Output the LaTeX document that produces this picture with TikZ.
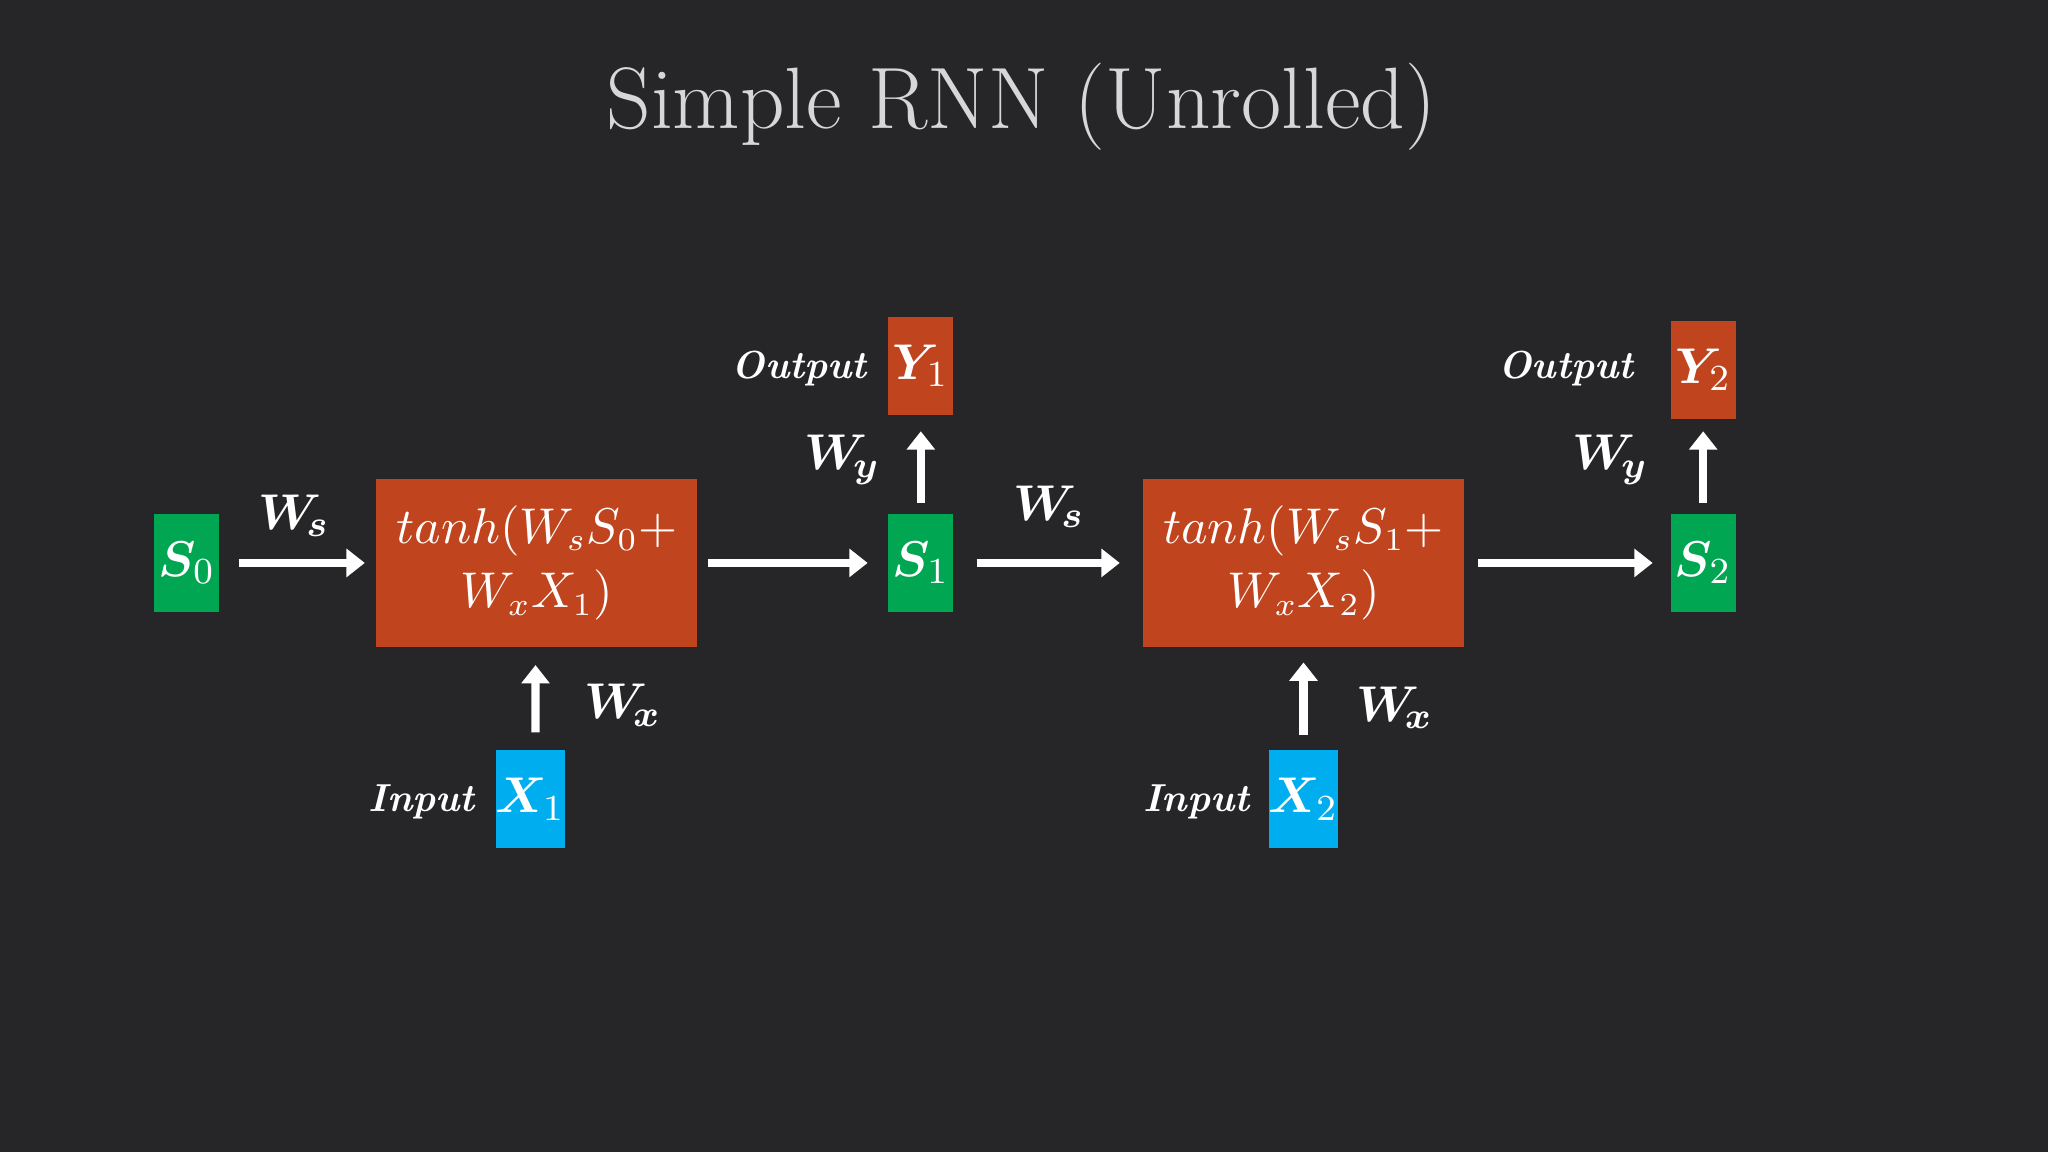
\documentclass[tikz,border=0pt]{standalone}
\usepackage{bm}
\usepackage{tikz}
\usetikzlibrary{arrows.meta}
\definecolor{bgdark}{RGB}{38,38,40}
\definecolor{stategreen}{RGB}{0,166,81}
\definecolor{cellorange}{RGB}{192,68,30}
\definecolor{inblue}{RGB}{0,174,239}
\definecolor{titlegray}{RGB}{215,215,215}
\begin{document}
\begin{tikzpicture}[x=0.1cm,y=-0.1cm,
    state/.style={fill=stategreen,minimum width=0.5cm,minimum height=0.75cm,text=white,inner sep=0pt,font=\fontsize{11}{13}\selectfont},
    outbox/.style={state,fill=cellorange},
    inbox/.style={state,fill=inblue},
    cell/.style={fill=cellorange,minimum width=2.46cm,minimum height=1.29cm,inner sep=0pt,text=white,align=center,font=\fontsize{10.5}{14}\selectfont},
    lbl/.style={text=white,font=\fontsize{11}{13}\selectfont},
    word/.style={text=white,font=\bfseries\itshape\fontsize{8.5}{10}\selectfont},
    flow/.style={-{Triangle[length=4pt,width=6pt]},white,line width=1.8pt}]
      \fill[bgdark] (0,0) rectangle (156.8,88.2);
      \node[text=titlegray,font=\fontsize{19}{23}\selectfont] (title) at (78.2,8.2) {Simple RNN (Unrolled)};

      \node[state] (s0) at (14.3,43.1) {$\bm{S}_0$};
      \node[cell] (c1) at (41.1,43.1) {$tanh(W_sS_0+$\\$W_xX_1)$};
      \node[state] (s1) at (70.5,43.1) {$\bm{S}_1$};
      \node[cell] (c2) at (99.8,43.1) {$tanh(W_sS_1+$\\$W_xX_2)$};
      \node[state] (s2) at (130.4,43.1) {$\bm{S}_2$};

      \node[outbox] (y1) at (70.5,28.0) {$\bm{Y}_1$};
      \node[outbox] (y2) at (130.4,28.3) {$\bm{Y}_2$};
      \node[inbox] (x1) at (40.6,61.2) {$\bm{X}_1$};
      \node[inbox] (x2) at (99.8,61.2) {$\bm{X}_2$};

      \node[word] (o1) at (61.2,28.2) {Output};
      \node[word] (o2) at (119.9,28.2) {Output};
      \node[word] (i1) at (32.3,61.4) {Input};
      \node[word] (i2) at (91.6,61.4) {Input};

      \draw[flow] ([xshift=0.14cm]s0.east) -- ([xshift=-0.08cm]c1.west);
      \draw[flow] ([xshift=0.07cm]c1.east) -- ([xshift=-0.15cm]s1.west);
      \draw[flow] ([xshift=0.17cm]s1.east) -- ([xshift=-0.17cm]c2.west);
      \draw[flow] ([xshift=0.10cm]c2.east) -- ([xshift=-0.13cm]s2.west);
      \draw[flow] ([yshift=0.08cm]s1.north) -- ([yshift=-0.12cm]y1.south);
      \draw[flow] ([yshift=0.08cm]s2.north) -- ([yshift=-0.09cm]y2.south);
      \draw[flow] ([xshift=0.04cm,yshift=0.13cm]x1.north) -- ([xshift=-0.01cm,yshift=-0.13cm]c1.south);
      \draw[flow] ([yshift=0.11cm]x2.north) -- ([yshift=-0.11cm]c2.south);

      \node[lbl] (ws1) at (22.5,39.5) {$\bm{W}_{\!\bm{s}}$};
      \node[lbl] (ws2) at (80.3,38.8) {$\bm{W}_{\!\bm{s}}$};
      \node[lbl] (wy1) at (64.5,35.2) {$\bm{W}_{\!\bm{y}}$};
      \node[lbl] (wy2) at (123.3,35.2) {$\bm{W}_{\!\bm{y}}$};
      \node[lbl] (wx1) at (47.7,54.0) {$\bm{W}_{\!\bm{x}}$};
      \node[lbl] (wx2) at (106.8,54.2) {$\bm{W}_{\!\bm{x}}$};
    \end{tikzpicture}
\end{document}
